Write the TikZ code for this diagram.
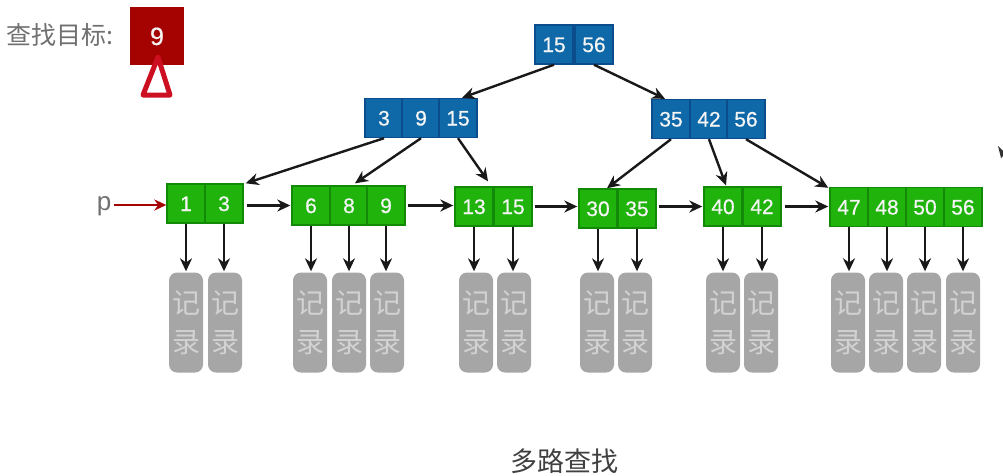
\documentclass[tikz,border=0pt]{standalone}
\usepackage{fontspec}
\setmainfont{Liberation Sans}
\newfontfamily\cjk{Noto Sans CJK SC}
\newfontfamily\numf[FakeBold=0.6]{Liberation Sans}
\usetikzlibrary{arrows.meta,calc}
\definecolor{gfill}{HTML}{20B30C}
\definecolor{gline}{HTML}{128A08}
\definecolor{bfill}{HTML}{0F69A8}
\definecolor{bline}{HTML}{0B4D8C}
\definecolor{tred}{HTML}{A50202}
\definecolor{pred}{HTML}{CC1022}
\definecolor{recg}{HTML}{A6A6A6}
\definecolor{rect}{HTML}{D2D2D2}
\definecolor{labg}{HTML}{707070}
\tikzset{
  x=1pt,y=-1pt,
  cellbase/.style={draw,line width=1.4pt,inner sep=0pt,text=white!92!gray,
    font=\numf\fontsize{21}{21}\selectfont,text height=15pt,text depth=0pt},
  gcell/.style={cellbase,fill=gfill,draw=gline,minimum height=39pt,minimum width=38pt},
  bcell/.style={cellbase,fill=bfill,draw=bline,minimum height=39pt,minimum width=38pt},
  rec/.style={fill=recg,rounded corners=8pt,minimum width=34pt,minimum height=100pt,inner sep=0pt,
    align=center,text=rect,font=\cjk\fontsize{28}{39}\selectfont},
  lk/.style={-{Stealth[length=13pt,width=12pt]},line width=2.4pt,black!90},
  down/.style={lk,shorten >=1pt},
}
\newcommand{\recnode}[2]{\node[rec] (#1) at (#2,322.5) {记\\录};}
\begin{document}
\begin{tikzpicture}
\useasboundingbox (0,0) rectangle (1003,475);
% target
\node[inner sep=0pt,anchor=west,text=labg,font=\cjk\fontsize{25}{25}\selectfont] (goal) at (6,35) {查找目标:};
\node[fill=tred,minimum width=54pt,minimum height=58pt,inner sep=0pt,text=white!92!gray,
  font=\numf\fontsize{25}{25}\selectfont,text height=18pt,text depth=0pt] (target) at (157,36) {9};
\draw[pred,line width=5pt,line join=round,fill=white] (158,57) -- (170,95) -- (143,95) -- cycle;
% root
\node[bcell] (r1) at (554,44.5) {15};
\node[bcell] (r2) at (594,44.5) {56};
% internal
\node[bcell] (l1) at (384,118) {3};
\node[bcell] (l2) at (421,118) {9};
\node[bcell] (l3) at (458,118) {15};
\node[bcell] (s1) at (671,119) {35};
\node[bcell] (s2) at (709,119) {42};
\node[bcell] (s3) at (746,119) {56};
% leaves
\node[gcell] (a1) at (186,203.5) {1};
\node[gcell] (a2) at (224,203.5) {3};
\node[gcell] (b1) at (311,205.5) {6};
\node[gcell] (b2) at (349,205.5) {8};
\node[gcell] (b3) at (386,205.5) {9};
\node[gcell] (c1) at (474,206.5) {13};
\node[gcell] (c2) at (513,206.5) {15};
\node[gcell] (d1) at (598,208.5) {30};
\node[gcell] (d2) at (637,208.5) {35};
\node[gcell] (e1) at (723,206.5) {40};
\node[gcell] (e2) at (762,206.5) {42};
\node[gcell] (f1) at (849,207) {47};
\node[gcell] (f2) at (887,207) {48};
\node[gcell] (f3) at (925,207) {50};
\node[gcell] (f4) at (963,207) {56};
% records
\recnode{ra1}{186}\recnode{ra2}{225}
\recnode{rb1}{310}\recnode{rb2}{349}\recnode{rb3}{387}
\recnode{rc1}{476}\recnode{rc2}{514}
\recnode{rd1}{597}\recnode{rd2}{635}
\recnode{re1}{723}\recnode{re2}{761}
\recnode{rf1}{848}\recnode{rf2}{886}\recnode{rf3}{924}\recnode{rf4}{963}
% tree links
\draw[lk] (r1.south) -- ($(l3.north)+(4,0)$);
\draw[lk] (r2.south) -- ($(s1.north)+(-6,0)$);
\draw[lk] (l1.south) -- ($(a2.north east)+(2,0)$);
\draw[lk] (l2.south) -- ($(b2.north)+(6,-2)$);
\draw[lk] (l3.south) -- ($(c1.north)+(14,-5)$);
\draw[lk] (s1.south) -- ($(d1.north)+(9,0)$);
\draw[lk] (s2.south) -- ($(e1.north)+(3,-1)$);
\draw[lk] (s3.south) -- ($(f1.north west)+(-1,1)$);
% sibling links
\draw[lk] ($(a2.east)+(3,2)$) -- ($(b1.west)+(-1,0)$);
\draw[lk] ($(b3.east)+(2,0)$) -- ($(b3.east -| c1.west)+(-1,0)$);
\draw[lk] ($(c2.east)+(2,0)$) -- ($(c2.east -| d1.west)+(-1,0)$);
\draw[lk] ($(d2.east)+(2,-2)$) -- ($(e1.west)+(-1,0)$);
\draw[lk] ($(e2.east)+(3,0)$) -- ($(e2.east -| f1.west)+(-1,0)$);
% record links
\foreach \u/\v in {a1/ra1,a2/ra2,b1/rb1,b2/rb2,b3/rb3,c1/rc1,c2/rc2,d1/rd1,d2/rd2,e1/re1,e2/re2,f1/rf1,f2/rf2,f3/rf3,f4/rf4}
  \draw[down] (\u.south) -- (\u.south |- \v.north);
% pointer
\node[inner sep=0pt,text=labg,font=\fontsize{26}{26}\selectfont] (p) at (104,206) {p};
\draw[-{Stealth[length=12pt,width=11pt]},line width=2pt,tred] (114,205) -- ($(a1.west)+(0,1.5)$);
% caption
\node[inner sep=0pt,text=black!75,font=\cjk\fontsize{27}{27}\selectfont] (cap) at (564,461) {多路查找};
% cursor fragment
\fill[black!80] (998,146) -- (1003,151) -- (1003,156) -- (1001,158) -- cycle;
\end{tikzpicture}
\end{document}
